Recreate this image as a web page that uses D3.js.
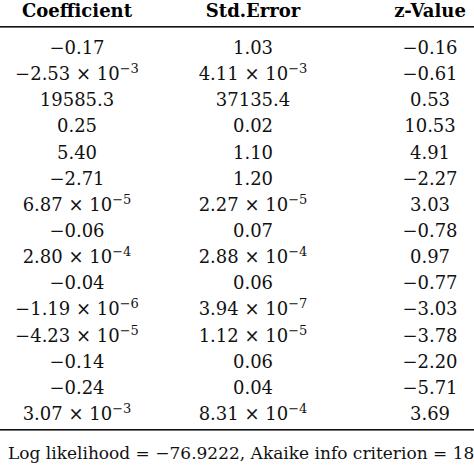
<!DOCTYPE html>
<html><head><meta charset="utf-8">
<script src="https://cdn.jsdelivr.net/npm/d3@7"></script>
<style>body{margin:0;background:#fff}</style>
</head><body>
<script>
var columns = ["Coefficient", "Std.Error", "z-Value"];
var coefficient = ["−0.17","−2.53|−3","19585.3","0.25","5.40","−2.71","6.87|−5","−0.06","2.80|−4","−0.04","−1.19|−6","−4.23|−5","−0.14","−0.24","3.07|−3"];
var stdError = ["1.03","4.11|−3","37135.4","0.02","1.10","1.20","2.27|−5","0.07","2.88|−4","0.06","3.94|−7","1.12|−5","0.06","0.04","8.31|−4"];
var zValue = ["−0.16","−0.61","0.53","10.53","4.91","−2.27","3.03","−0.78","0.97","−0.77","−3.03","−3.78","−2.20","−5.71","3.69"];
var footer = "Log likelihood = −76.9222, Akaike info criterion = 183.2";

var w = 474, h = 474;
var font = "'DejaVu Serif', serif";

var svg = d3.select("body").append("svg").attr("width", w).attr("height", h);

var x = d3.scaleOrdinal().domain([0,1,2]).range([77, 253, 430]);
var y = d3.scaleLinear().domain([0, 14]).range([47, 413]);

svg.selectAll("text.head")
.data(columns)
.enter()
.append("text")
.attr("class", "head")
.attr("x", function(d, i) { return x(i); })
.attr("y", 17)
.attr("text-anchor", "middle")
.attr("font-family", font)
.attr("font-weight", "bold")
.attr("font-size", "18px")
.text(function(d) { return d; });

svg.append("rect").attr("x", 0).attr("y", 26).attr("width", w).attr("height", 1.6).attr("fill", "#111");
svg.append("rect").attr("x", 0).attr("y", 429).attr("width", w).attr("height", 1.6).attr("fill", "#111");

var cols = [coefficient, stdError, zValue];
cols.forEach(function(col, c) {
  svg.selectAll("text.c" + c)
  .data(col)
  .enter()
  .append("text")
  .attr("class", "c" + c)
  .attr("x", x(c))
  .attr("y", function(d, i) { return y(i) + 7; })
  .attr("text-anchor", "middle")
  .attr("font-family", font)
  .attr("font-size", "18px")
  .attr("fill", "#111")
  .each(function(d) {
    var t = d3.select(this);
    var parts = d.split("|");
    if (parts.length === 1) { t.text(d); return; }
    t.append("tspan").text(parts[0] + " × 10");
    t.append("tspan").attr("dy", -7).attr("font-size", "13px").text(parts[1]);
  });
});

svg.append("text")
.attr("x", 8)
.attr("y", 459)
.attr("font-family", font)
.attr("font-size", "17px")
.attr("fill", "#111")
.text(footer);
</script>
</body></html>
